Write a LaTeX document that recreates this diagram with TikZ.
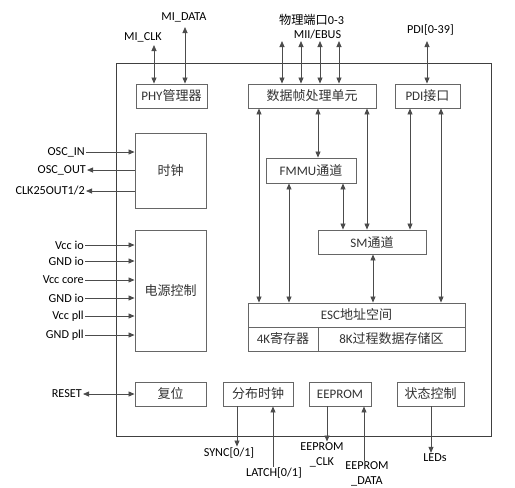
\documentclass[tikz,border=0pt]{standalone}
\usepackage{fontspec}
\setmainfont{Carlito}
\newfontfamily\cjk{Noto Sans CJK SC}
\usetikzlibrary{arrows.meta,shadows}
\begin{document}
\begin{tikzpicture}[x=1pt,y=-1pt,
  box/.style={draw=black!60, line width=0.9pt, fill=white,
    drop shadow={shadow xshift=1.3pt,shadow yshift=-1.3pt,fill=black!22,opacity=1},
    inner sep=0pt, font=\fontsize{13}{15}\selectfont, text=black!80},
  lbl/.style={inner sep=1pt, font=\fontsize{12.2}{15}\selectfont, text=black},
  sig/.style={draw=black!70, line width=0.8pt, -{Triangle[length=6pt,width=5pt]}},
  dsig/.style={draw=black!70, line width=0.8pt, {Triangle[length=6pt,width=5pt]}-{Triangle[length=6pt,width=5pt]}},
]
\useasboundingbox (0,0) rectangle (515,488);

% chip outline
\node[draw=black!75, line width=1pt, minimum width=375pt, minimum height=373pt, inner sep=0pt] (chip) at (303.5,249.5) {};

% boxes
\node[box, minimum width=71pt, minimum height=24pt] (phy) at (171.5,96) {PHY{\cjk 管理器}};
\node[box, minimum width=128pt, minimum height=24pt] (frame) at (312,96) {\cjk 数据帧处理单元};
\node[box, minimum width=65pt, minimum height=24pt] (pdi) at (427.5,96) {PDI{\cjk 接口}};
\node[box, minimum width=71pt, minimum height=75pt] (clock) at (170.5,170.5) {\cjk 时钟};
\node[box, minimum width=71pt, minimum height=121pt] (power) at (170.5,290.5) {\cjk 电源控制};
\node[box, minimum width=90pt, minimum height=25pt] (fmmu) at (311,170.5) {FMMU{\cjk 通道}};
\node[box, minimum width=108pt, minimum height=24pt] (sm) at (372,242) {SM{\cjk 通道}};
\node[box, minimum width=217pt, minimum height=24pt] (esc) at (356.5,315) {ESC{\cjk 地址空间}};
\node[box, minimum width=70pt, minimum height=24pt] (reg) at (283,339) {4K{\cjk 寄存器}};
\node[box, minimum width=147pt, minimum height=24pt] (pd) at (391.5,339) {8K{\cjk 过程数据存储区}};
\node[box, minimum width=71pt, minimum height=24pt] (reset) at (170.5,394) {\cjk 复位};
\node[box, minimum width=70pt, minimum height=24pt] (dc) at (258,394) {\cjk 分布时钟};
\node[box, minimum width=62pt, minimum height=24pt] (eeprom) at (340,394) {EEPROM};
\node[box, minimum width=67pt, minimum height=24pt] (status) at (430.5,394) {\cjk 状态控制};

% internal connectors
\draw[dsig] (259,0 |- frame.south) -- (259,0 |- esc.north);
\draw[dsig] (318,0 |- frame.south) -- (318,0 |- fmmu.north);
\draw[dsig] (367,0 |- frame.south) -- (367,0 |- sm.north);
\draw[dsig] (410,0 |- pdi.south) -- (410,0 |- sm.north);
\draw[dsig] (441,0 |- pdi.south) -- (441,0 |- esc.north);
\draw[dsig] (289,0 |- fmmu.south) -- (289,0 |- esc.north);
\draw[dsig] (343,0 |- fmmu.south) -- (343,0 |- sm.north);
\draw[dsig] (373,0 |- sm.south) -- (373,0 |- esc.north);

% top signals
\node[lbl] (miclkl) at (143,37) {MI\_CLK};
\node[lbl] (midatal) at (184,17) {MI\_DATA};
\coordinate (miclk) at (154,45);
\coordinate (midata) at (185,27);
\draw[dsig] (miclk) -- (miclk |- phy.north);
\draw[dsig] (midata) -- (midata |- phy.north);

\node[lbl] (portl) at (311.5,20) {{\cjk 物理端口}0-3};
\node[lbl] (miil) at (317.5,35) {MII/EBUS};
\foreach \i/\xx in {1/282,2/301,3/320,4/339}{
  \coordinate (m\i) at (\xx,41);
  \draw[dsig] (m\i) -- (m\i |- frame.north);
}
\node[lbl] (pdil) at (430.5,30) {PDI[0-39]};
\coordinate (pdic) at (427,41);
\draw[dsig] (pdic) -- (pdic |- pdi.north);

% left signals
\node[lbl, anchor=east] (oscin) at (86,152) {OSC\_IN};
\node[lbl, anchor=east] (oscout) at (87,170) {OSC\_OUT};
\node[lbl, anchor=east] (clk25) at (86,191) {CLK25OUT1/2};
\draw[sig] (oscin.east) -- (oscin.east -| clock.west);
\draw[sig] (oscout.east -| clock.west) -- (oscout.east);
\draw[sig] (clk25.east -| clock.west) -- (clk25.east);

\foreach \n/\yy/\t in {v1/245/Vcc io, g1/261/GND io, v2/280/Vcc core, g2/298/GND io, v3/316/Vcc pll, g3/335/GND pll}{
  \node[lbl, anchor=east] (\n) at (85,\yy) {\t};
  \draw[sig] (\n.east) -- (\n.east -| power.west);
}

\node[lbl, anchor=east] (resetl) at (83,394) {RESET};
\draw[dsig] (resetl.east) -- (resetl.east -| reset.west);

% bottom signals
\node[lbl] (sync) at (229,453) {SYNC[0/1]};
\draw[sig] (237,0 |- dc.south) -- (237,0 |- sync.north);
\node[lbl] (latch) at (274,473) {LATCH[0/1]};
\draw[sig] (273,0 |- latch.north) -- (273,0 |- dc.south);
\node[lbl, align=center] (eclk) at (322,455) {EEPROM\\\_CLK};
\draw[sig] (327,0 |- eeprom.south) -- (327,0 |- eclk.north);
\node[lbl, align=center] (edata) at (367,474) {EEPROM\\\_DATA};
\draw[sig] (364,0 |- edata.north) -- (364,0 |- eeprom.south);
\node[lbl] (leds) at (435,458) {LEDs};
\draw[sig] (431,0 |- status.south) -- (431,0 |- leds.north);
\end{tikzpicture}
\end{document}
